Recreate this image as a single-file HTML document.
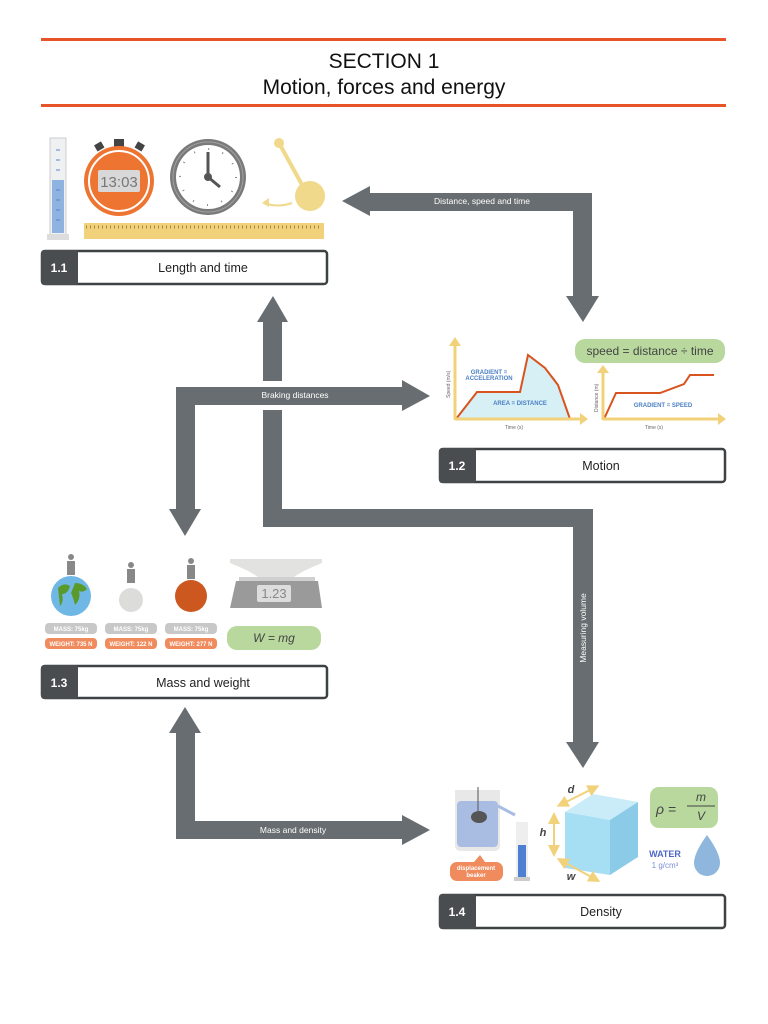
<!DOCTYPE html>
<html><head><meta charset="utf-8"><style>
html,body{margin:0;padding:0;background:#fff}
svg{display:block}
text{font-family:"Liberation Sans",sans-serif}
</style></head><body>
<svg width="768" height="1024" viewBox="0 0 768 1024" xmlns="http://www.w3.org/2000/svg">
<defs>
<marker id="ah" markerWidth="6" markerHeight="6" refX="3" refY="3" orient="auto-start-reverse"><path d="M0,0 L6,3 L0,6z" fill="#f1d27a"/></marker>
</defs>
<!-- header -->
<rect x="41" y="38" width="685" height="3" fill="#e8542a"/>
<rect x="41" y="104" width="685" height="3" fill="#e8542a"/>
<text x="384" y="68" font-size="21" text-anchor="middle" fill="#111">SECTION 1</text>
<text x="384" y="94" font-size="21" text-anchor="middle" fill="#111">Motion, forces and energy</text>

<!-- arrows -->
<g fill="#676d70">
<rect x="368" y="193" width="224" height="18"/>
<polygon points="342,201 370,186 370,216"/>
<rect x="573" y="193" width="19" height="104"/>
<polygon points="566,296 599,296 583,322"/>
<rect x="263" y="320" width="19" height="61"/>
<polygon points="257,322 288,322 273,296"/>
<rect x="263" y="410" width="19" height="117"/>
<rect x="263" y="509" width="329" height="18"/>
<rect x="573" y="509" width="20" height="234"/>
<polygon points="566,742 599,742 583,768"/>
<rect x="176" y="387" width="228" height="18"/>
<polygon points="402,380 402,411 430,396"/>
<rect x="176" y="387" width="19" height="124"/>
<polygon points="169,509 201,509 185,536"/>
<rect x="176" y="731" width="19" height="108"/>
<polygon points="169,733 201,733 185,707"/>
<rect x="176" y="821" width="228" height="18"/>
<polygon points="402,815 402,845 430,830"/>
</g>
<g fill="#fff" font-size="8.5" text-anchor="middle">
<text x="482" y="204">Distance, speed and time</text>
<text x="295" y="398">Braking distances</text>
<text x="293" y="833">Mass and density</text>
<text x="0" y="0" transform="translate(586,628) rotate(-90)">Measuring volume</text>
</g>

<!-- boxes -->
<g font-size="12.5" fill="#222">
<rect x="42" y="251" width="285" height="33" rx="3" fill="#fff" stroke="#3f4244" stroke-width="2.5"/>
<rect x="41" y="250" width="37" height="35" rx="3" fill="#4a4d4f"/>
<text x="59" y="272" fill="#fff" font-weight="bold" font-size="12" text-anchor="middle">1.1</text>
<text x="203" y="272" text-anchor="middle">Length and time</text>

<rect x="440" y="449" width="285" height="33" rx="3" fill="#fff" stroke="#3f4244" stroke-width="2.5"/>
<rect x="439" y="448" width="37" height="35" rx="3" fill="#4a4d4f"/>
<text x="457" y="470" fill="#fff" font-weight="bold" font-size="12" text-anchor="middle">1.2</text>
<text x="601" y="470" text-anchor="middle">Motion</text>

<rect x="42" y="666" width="285" height="32" rx="3" fill="#fff" stroke="#3f4244" stroke-width="2.5"/>
<rect x="41" y="665" width="37" height="34" rx="3" fill="#4a4d4f"/>
<text x="59" y="687" fill="#fff" font-weight="bold" font-size="12" text-anchor="middle">1.3</text>
<text x="203" y="687" text-anchor="middle">Mass and weight</text>

<rect x="440" y="895" width="285" height="33" rx="3" fill="#fff" stroke="#3f4244" stroke-width="2.5"/>
<rect x="439" y="894" width="37" height="35" rx="3" fill="#4a4d4f"/>
<text x="457" y="916" fill="#fff" font-weight="bold" font-size="12" text-anchor="middle">1.4</text>
<text x="601" y="916" text-anchor="middle">Density</text>
</g>

<!-- 1.1 icons -->
<rect x="50" y="138" width="16" height="97" fill="#eef0f2" stroke="#ccc"/>
<rect x="52" y="180" width="12" height="53" fill="#8fb3e0"/>
<rect x="47" y="234" width="22" height="6" fill="#ddd"/>
<g stroke="#5a86c8" stroke-width="1">
<line x1="56" y1="150" x2="60" y2="150"/><line x1="56" y1="160" x2="60" y2="160"/><line x1="56" y1="170" x2="60" y2="170"/><line x1="56" y1="190" x2="60" y2="190"/><line x1="56" y1="200" x2="60" y2="200"/><line x1="56" y1="210" x2="60" y2="210"/><line x1="56" y1="220" x2="60" y2="220"/>
</g>
<rect x="114" y="139" width="10" height="8" fill="#444"/>
<rect x="95" y="143" width="8" height="7" fill="#444" transform="rotate(-30 99 146)"/>
<rect x="136" y="143" width="8" height="7" fill="#444" transform="rotate(30 140 146)"/>
<circle cx="119" cy="181" r="35" fill="#ee7431"/>
<circle cx="119" cy="181" r="30" fill="none" stroke="#fff" stroke-width="2"/>
<rect x="98" y="170" width="42" height="22" rx="2" fill="#d8d8d8"/>
<text x="119" y="187" font-size="15" text-anchor="middle" fill="#777">13:03</text>
<circle cx="208" cy="177" r="38" fill="#7a7a7a"/>
<circle cx="208" cy="177" r="35" fill="none" stroke="#a0a0a0" stroke-width="1"/>
<circle cx="208" cy="177" r="32" fill="#fff"/>
<circle cx="208" cy="177" r="28" fill="none" stroke="#888" stroke-width="2" stroke-dasharray="1 13.66"/>
<line x1="208" y1="177" x2="208" y2="152" stroke="#555" stroke-width="3"/>
<line x1="208" y1="177" x2="220" y2="187" stroke="#555" stroke-width="3"/>
<circle cx="208" cy="177" r="4" fill="#555"/>
<line x1="279" y1="143" x2="306" y2="192" stroke="#f0d98a" stroke-width="4"/>
<circle cx="279" cy="143" r="5" fill="#f0d98a"/>
<circle cx="310" cy="196" r="15" fill="#f0d98a"/>
<path d="M292,203 Q278,208 264,203" fill="none" stroke="#f0d98a" stroke-width="2"/>
<polygon points="262,203 269,198 269,207" fill="#f0d98a"/>
<rect x="84" y="223" width="240" height="16" fill="#f1d27a"/>
<line x1="86" y1="227" x2="322" y2="227" stroke="#a08a40" stroke-width="3" stroke-dasharray="1 3"/>

<!-- 1.2 graphs -->
<polygon points="456,419 477,392 520,392 528,355 555,378 570,419" fill="#d6f0f6"/>
<polyline points="456,419 477,392 520,392 528,355 545,368 558,385 570,419" fill="none" stroke="#d9531e" stroke-width="2"/>
<line x1="455" y1="420" x2="455" y2="345" stroke="#f1d27a" stroke-width="3"/>
<polygon points="449,346 461,346 455,337" fill="#f1d27a"/>
<line x1="455" y1="419" x2="580" y2="419" stroke="#f1d27a" stroke-width="3"/>
<polygon points="580,413 580,425 588,419" fill="#f1d27a"/>
<text x="489" y="374" font-size="6" fill="#4a7fc4" font-weight="bold" text-anchor="middle">GRADIENT =</text>
<text x="489" y="380" font-size="6" fill="#4a7fc4" font-weight="bold" text-anchor="middle">ACCELERATION</text>
<text x="520" y="405" font-size="6" fill="#4a7fc4" font-weight="bold" text-anchor="middle">AREA = DISTANCE</text>
<text x="0" y="0" font-size="5" fill="#666" transform="translate(450,398) rotate(-90)">Speed (m/s)</text>
<text x="514" y="429" font-size="5" fill="#666" text-anchor="middle">Time (s)</text>
<rect x="575" y="339" width="150" height="24" rx="10" fill="#b9d89e"/>
<text x="650" y="355" font-size="12" text-anchor="middle" fill="#444">speed = distance ÷ time</text>
<polyline points="604,419 616,393 660,393 684,384 690,375 714,375" fill="none" stroke="#d9531e" stroke-width="2"/>
<line x1="603" y1="420" x2="603" y2="372" stroke="#f1d27a" stroke-width="3"/>
<polygon points="597,373 609,373 603,365" fill="#f1d27a"/>
<line x1="603" y1="419" x2="718" y2="419" stroke="#f1d27a" stroke-width="3"/>
<polygon points="718,413 718,425 726,419" fill="#f1d27a"/>
<text x="663" y="407" font-size="6" fill="#4a7fc4" font-weight="bold" text-anchor="middle">GRADIENT = SPEED</text>
<text x="0" y="0" font-size="5" fill="#666" transform="translate(598,412) rotate(-90)">Distance (m)</text>
<text x="654" y="429" font-size="5" fill="#666" text-anchor="middle">Time (s)</text>

<!-- 1.3 -->
<g fill="#888">
<circle cx="71" cy="557" r="3"/><rect x="67" y="561" width="8" height="14"/>
<circle cx="131" cy="565" r="3"/><rect x="127" y="569" width="8" height="14"/>
<circle cx="191" cy="561" r="3"/><rect x="187" y="565" width="8" height="14"/>
</g>
<circle cx="71" cy="596" r="20" fill="#6fb8e6"/>
<path d="M58,588 q6,-6 12,-2 q-2,8 -8,8 q2,8 -2,12 z M75,583 q8,0 12,6 q-4,4 -8,2 q2,8 -4,14 q-2,-8 -4,-12z" fill="#5a9a2a"/>
<circle cx="131" cy="600" r="12" fill="#dcdcda"/>
<circle cx="191" cy="596" r="16" fill="#cc571f"/>
<path d="M230,559 h92 v4 q-20,8 -28,14 h-36 q-8,-6 -28,-14z" fill="#e2e2e0"/>
<rect x="239" y="577" width="76" height="4" fill="#d0d0d0"/>
<polygon points="236,581 318,581 322,608 230,608" fill="#9a9a9a"/>
<rect x="257" y="585" width="34" height="17" rx="2" fill="#ddd"/>
<text x="274" y="598" font-size="13" text-anchor="middle" fill="#888">1.23</text>
<g font-size="6" font-weight="bold" fill="#fff" text-anchor="middle">
<rect x="45" y="623" width="52" height="11" rx="4" fill="#c8c8c8"/><text x="71" y="631">MASS: 75kg</text>
<rect x="45" y="638" width="52" height="11" rx="4" fill="#f08b5e"/><text x="71" y="646">WEIGHT: 735 N</text>
<rect x="105" y="623" width="52" height="11" rx="4" fill="#c8c8c8"/><text x="131" y="631">MASS: 75kg</text>
<rect x="105" y="638" width="52" height="11" rx="4" fill="#f08b5e"/><text x="131" y="646">WEIGHT: 122 N</text>
<rect x="165" y="623" width="52" height="11" rx="4" fill="#c8c8c8"/><text x="191" y="631">MASS: 75kg</text>
<rect x="165" y="638" width="52" height="11" rx="4" fill="#f08b5e"/><text x="191" y="646">WEIGHT: 277 N</text>
</g>
<rect x="227" y="626" width="94" height="24" rx="10" fill="#b9d89e"/>
<text x="274" y="642" font-size="12" font-style="italic" text-anchor="middle" fill="#444">W = mg</text>

<!-- 1.4 -->
<path d="M455,790 h45 v55 q0,6 -6,6 h-33 q-6,0 -6,-6z" fill="#e8e8e8"/>
<rect x="457" y="801" width="41" height="46" rx="4" fill="#a9bde3"/>
<line x1="478" y1="787" x2="478" y2="815" stroke="#555"/>
<ellipse cx="479" cy="817" rx="8" ry="6" fill="#555"/>
<line x1="498" y1="806" x2="515" y2="815" stroke="#a9bde3" stroke-width="3"/>
<rect x="516" y="822" width="12" height="55" fill="#eee"/>
<rect x="518" y="845" width="8" height="32" fill="#4f7fd0"/>
<rect x="514" y="877" width="16" height="4" fill="#ccc"/>
<rect x="450" y="862" width="53" height="19" rx="7" fill="#f08b5e"/>
<polygon points="474,862 480,855 485,862" fill="#f08b5e"/>
<text x="476" y="870" font-size="6" font-weight="bold" fill="#fff" text-anchor="middle">displacement</text>
<text x="476" y="877" font-size="6" font-weight="bold" fill="#fff" text-anchor="middle">beaker</text>
<polygon points="565,812 593,794 638,802 610,820" fill="#c9ecf8"/>
<polygon points="565,812 610,820 610,875 565,868" fill="#a6def4"/>
<polygon points="610,820 638,802 638,857 610,875" fill="#8ccbe8"/>
<g stroke="#f1d27a" stroke-width="2" fill="none">
<line x1="562" y1="804" x2="594" y2="788" marker-start="url(#ah)" marker-end="url(#ah)"/>
<line x1="554" y1="818" x2="554" y2="851" marker-start="url(#ah)" marker-end="url(#ah)"/>
<line x1="562" y1="861" x2="595" y2="879" marker-start="url(#ah)" marker-end="url(#ah)"/>
</g>
<text x="571" y="793" font-size="11" font-style="italic" font-weight="bold" fill="#444" text-anchor="middle">d</text>
<text x="543" y="836" font-size="11" font-style="italic" font-weight="bold" fill="#444" text-anchor="middle">h</text>
<text x="571" y="880" font-size="11" font-style="italic" font-weight="bold" fill="#444" text-anchor="middle">w</text>
<rect x="650" y="787" width="68" height="41" rx="9" fill="#b9d89e"/>
<text x="666" y="814" font-size="14" font-style="italic" fill="#444" text-anchor="middle">ρ =</text>
<text x="701" y="801" font-size="12" font-style="italic" fill="#444" text-anchor="middle">m</text>
<line x1="687" y1="806" x2="715" y2="806" stroke="#444"/>
<text x="701" y="820" font-size="12" font-style="italic" fill="#444" text-anchor="middle">V</text>
<text x="665" y="857" font-size="9" font-weight="bold" fill="#4f68c8" text-anchor="middle">WATER</text>
<text x="665" y="868" font-size="8" fill="#7b8fd8" text-anchor="middle">1 g/cm³</text>
<path d="M707,835 q-13,18 -13,28 a13,13 0 0 0 26,0 q0,-10 -13,-28z" fill="#8fb6dc"/>
</svg>
</body></html>
